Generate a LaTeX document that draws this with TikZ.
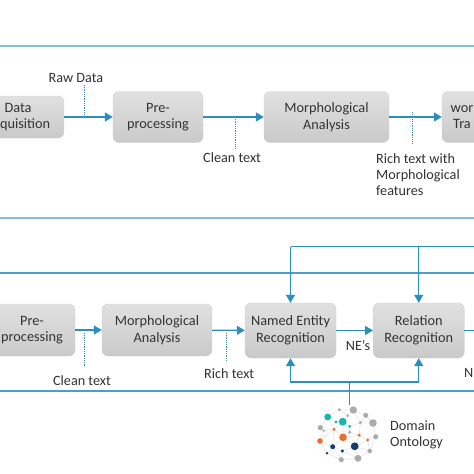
\documentclass[tikz,border=0pt]{standalone}
\usepackage{fontspec}
\setmainfont{Carlito}
\usepackage{xcolor}
\usetikzlibrary{arrows.meta,positioning,calc}
\definecolor{flowblue}{HTML}{2C8CC4}
\definecolor{framelight}{HTML}{85BFD6}
\definecolor{tealnode}{HTML}{17B8A8}
\definecolor{orangenode}{HTML}{EE6C2B}
\definecolor{navynode}{HTML}{123F6B}
\definecolor{graynode}{HTML}{ABABAB}
\newcommand{\ontolist}{
    a/353.3/410/3.2/graynode, b/339.3/409.7/1.5/graynode, c/365.7/415.3/2.2/graynode,
    d/373/423/3.3/graynode, e/320.3/427.7/2.3/graynode, f/323.7/430.7/1.2/graynode,
    g/327.7/417/3/tealnode, h/342.7/421.7/3.4/tealnode, i/336/422/1.4/tealnode,
    j/349.7/426.3/1.3/tealnode, k/347.7/415.7/1.3/graynode, l/360.3/422.7/1.5/graynode,
    m/334/429.3/1.4/orangenode, n/343/437.3/3.3/orangenode, o/359.3/435.3/1.4/orangenode,
    p/367.7/440/1.4/orangenode, q/320/441/2.4/orangenode, r/349.7/432.3/1.4/graynode,
    s/375.7/436.7/2.2/graynode, t/332.7/446.7/2.2/navynode, u/354.7/446.3/3.4/navynode,
    v/342.3/451/1.5/navynode, w/327/453.3/1.2/navynode, x/369.7/451/2/graynode,
    y/341.3/459.7/2.2/graynode, z/358/458.3/3/graynode}
\tikzset{
  stagebox/.style={draw=black!18, top color=black!12, bottom color=black!21, rounded corners=6pt,
    align=center, inner sep=0pt, text=black!80, font=\fontsize{14.3}{16.5}\selectfont,
    execute at begin node={\rule{0pt}{18pt}}},
  flow/.style={-{Triangle[length=8pt,width=9pt]}, flowblue, line width=1.3pt},
  flowplain/.style={flowblue, line width=1.3pt},
  probe/.style={densely dotted, flowblue!70!gray, line width=0.8pt},
  tag/.style={align=left, inner sep=0pt, text=black!80, font=\fontsize{14.2}{16}\selectfont},
  frameline/.style={framelight, line width=1.1pt},
}
\begin{document}
\begin{tikzpicture}[x=1pt,y=-1pt]
\clip (0,0) rectangle (474,474);
\fill[white] (0,0) rectangle (474,474);

% --- Frame lines ---
\draw[frameline] (0,46) -- (474,46);
\draw[frameline] (0,218) -- (474,218);
\draw[frameline, flowblue!85] (0,273) -- (474,273);
\draw[frameline, flowblue!85] (0,391) -- (474,391);

% --- Upper pipeline ---
\node[stagebox, minimum width=92pt, minimum height=42pt] (acq) at (18,117) {Data\\Acquisition};
\node[stagebox, minimum width=90pt, minimum height=51pt] (pre) at (158,117) {Pre-\\processing};
\node[stagebox, minimum width=125pt, minimum height=51pt] (morph) at (326.5,117) {Morphological\\Analysis};
\node[stagebox, minimum width=40pt, minimum height=51pt] (word) at (462,117) {wor\\Tra};

\draw[flow] (acq) -- (pre);
\draw[flow] (pre) -- (morph);
\draw[flow] (morph) -- (word);

% Data labels
\node[tag] (raw) at (76,78) {Raw Data};
\node[tag, anchor=west] (clean) at (203,158) {Clean text};
\node[tag, anchor=north west] (rich) at (376,153) {Rich text with\\Morphological\\features};
\coordinate (rawa) at (84,85);
\coordinate (rawb) at (84,115);
\coordinate (cleana) at (235,117);
\coordinate (cleanb) at (235,148);
\coordinate (richa) at (412,112);
\coordinate (richb) at (412,143);
\draw[probe] (rawa) -- (rawb);
\draw[probe] (cleana) -- (cleanb);
\draw[probe] (richa) -- (richb);

% --- Lower pipeline ---
\node[stagebox, minimum width=86pt, minimum height=52pt] (prelow) at (32,330) {Pre-\\processing};
\node[stagebox, minimum width=110pt, minimum height=52pt] (morphlow) at (157,330) {Morphological\\Analysis};
\node[stagebox, minimum width=91pt, minimum height=55pt] (ner) at (290.5,330.5) {Named Entity\\Recognition};
\node[stagebox, minimum width=91pt, minimum height=55pt] (rel) at (418.75,330.5) {Relation\\Recognition};
\coordinate (relout) at (480,330.5);

\draw[flow] (prelow) -- (morphlow);
\draw[flow] (morphlow) -- (ner);
\draw[flow] (ner) -- (rel);
\draw[flowplain] (rel) -- (relout);

% Feedback from the right
\coordinate (loopa) at (290.5,246.5);
\coordinate (loopb) at (418.75,246.5);
\coordinate (loopend) at (480,246.5);
\draw[flowplain] (loopa) -- (loopend);
\draw[flow] (loopa) -- (ner);
\draw[flow] (loopb) -- (rel);

% Data labels
\node[tag] (cleanlow) at (82,381) {Clean text};
\node[tag, anchor=west] (richlow) at (204,374) {Rich text};
\node[tag] (nes) at (358,346) {NE's};
\node[tag, anchor=west] (nlow) at (464,373) {N};
\coordinate (cleanlowa) at (84,333);
\coordinate (cleanlowb) at (84,366);
\coordinate (richlowa) at (226,333);
\coordinate (richlowb) at (226,361);
\draw[probe] (cleanlowa) -- (cleanlowb);
\draw[probe] (richlowa) -- (richlowb);

% --- Domain ontology ---
\node[minimum size=60pt, inner sep=0pt] (onto) at (349,435) {};
\node[tag, anchor=west] (ontotext) at (390,435) {Domain\\Ontology};
\coordinate (brk) at (349,382);
\draw[flowplain, line width=1pt] (onto) -- (brk);
\draw[flow] (brk) -| (ner);
\draw[flow] (brk) -| (rel);

% Graph dots
\foreach \nm/\x/\y/\r/\c in \ontolist {
  \coordinate (g\nm) at (\x,\y);
}
\foreach \p/\q in {a/b, a/c, a/k, a/l, b/k, b/g, c/d, c/l, d/s, d/l, e/f, e/g, f/m, f/q, g/i, g/m,
    h/i, h/j, h/k, h/m, h/n, j/l, j/r, l/o, m/n, m/q, m/t, n/r, n/o, n/t, n/u, o/p, o/u, o/r,
    p/s, p/u, p/x, s/x, q/t, q/w, t/v, t/w, t/y, u/v, u/x, u/z, v/y, v/z, w/y, x/z, y/z} {
  \draw[orangenode!18!black!14, line width=0.45pt] (g\p) -- (g\q);
}
\foreach \nm/\x/\y/\r/\c in \ontolist {
  \fill[\c] (\x,\y) circle ({1.15*\r pt});
}
\end{tikzpicture}
\end{document}
